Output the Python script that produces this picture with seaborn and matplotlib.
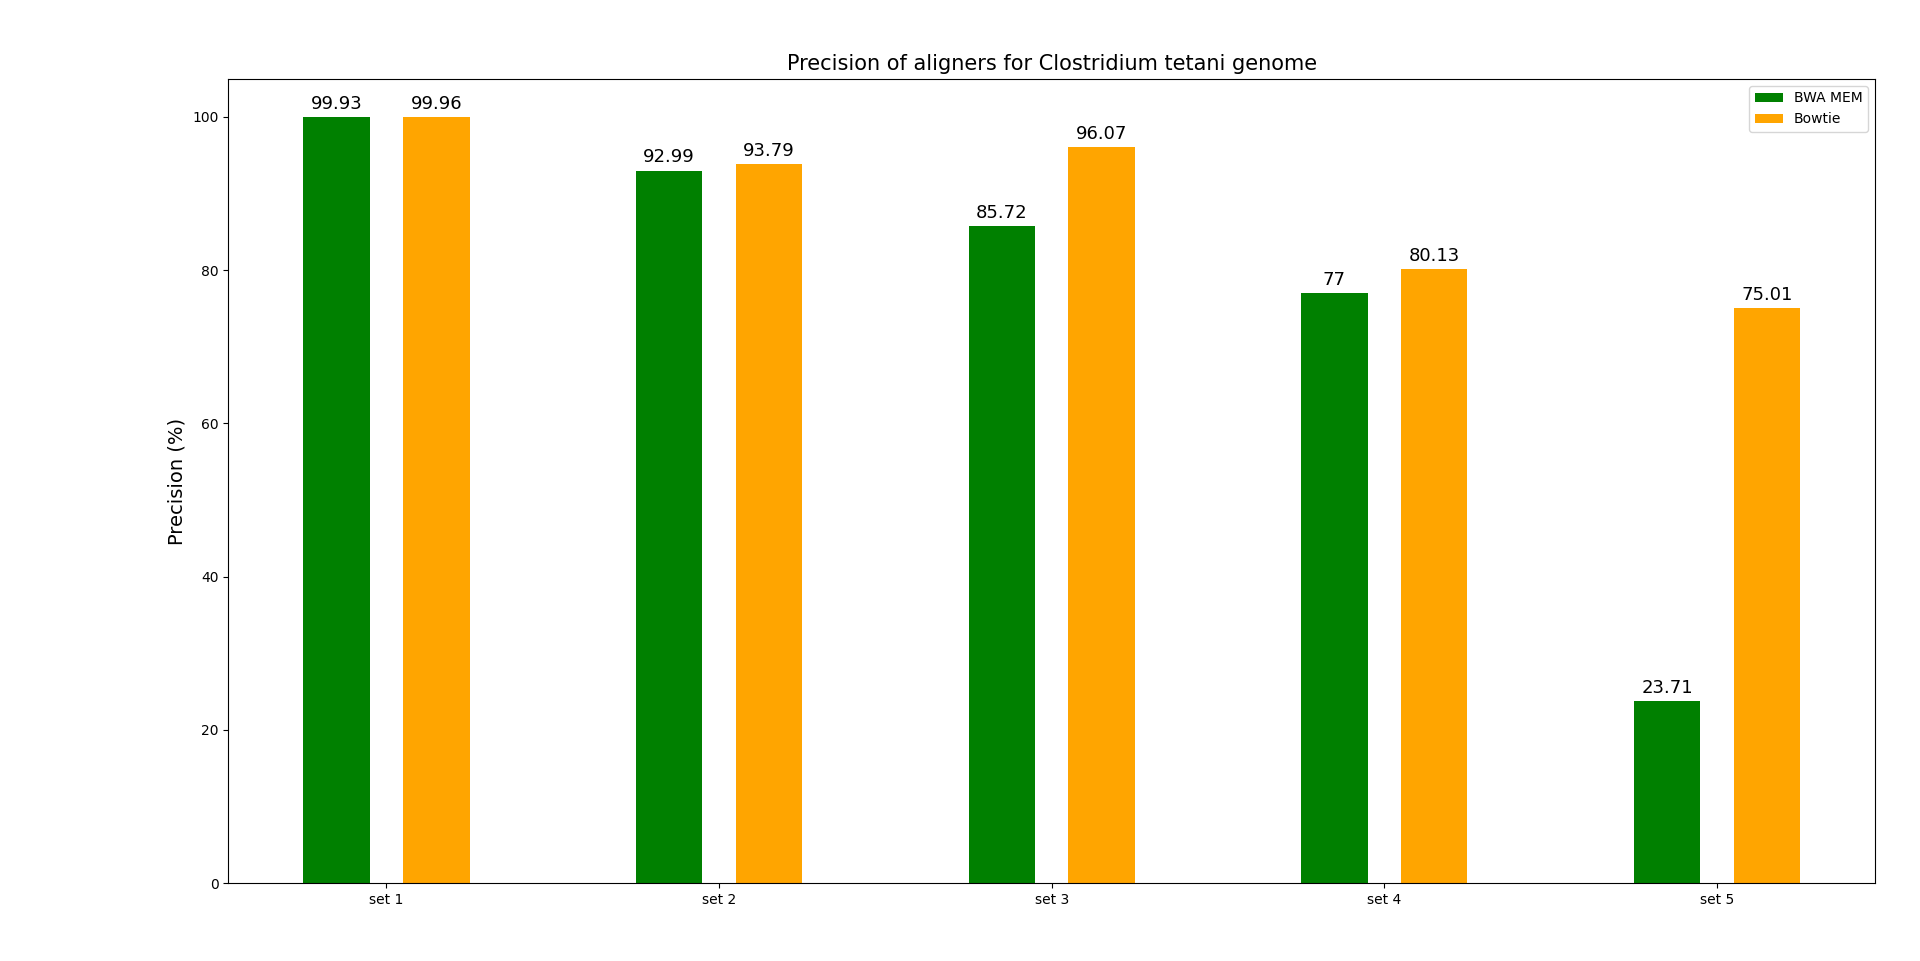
import pandas as pd
import matplotlib.pyplot as plt
import seaborn as sns

sets = ["set 1", "set 2", "set 3", "set 4", "set 5"]
aligners = ["BWA MEM", "Bowtie"]
bwa_mem = [99.93, 92.99, 85.72, 77, 23.71]
bowtie = [99.96, 93.79, 96.07, 80.13, 75.01]
colors = ["green", "orange"]

df = pd.DataFrame({
    "set": sets * 2,
    "aligner": [aligners[0]] * len(sets) + [aligners[1]] * len(sets),
    "precision": bwa_mem + bowtie,
})

fig, ax = plt.subplots(figsize=(19.2, 9.61), dpi=100)
fig.subplots_adjust(left=0.119, right=0.9765, top=0.918, bottom=0.081)

sns.barplot(data=df, x="set", y="precision", hue="aligner", palette=colors,
            width=0.6, gap=1 / 3, saturation=1, errorbar=None, ax=ax)

# value on top of every bar
for container in ax.containers:
    ax.bar_label(container, fmt="%g", padding=3, fontsize=13)

ax.set_xlim(-0.475, 4.475)
ax.set_ylim(0, 104.96)
ax.set_xlabel("")
ax.set_ylabel("Precision (%)", fontsize=14)
ax.set_title("Precision of aligners for Clostridium tetani genome", fontsize=15)

handles, labels = ax.get_legend_handles_labels()
ax.legend(handles, labels, loc="upper right")

plt.savefig("out.png", dpi=100)
